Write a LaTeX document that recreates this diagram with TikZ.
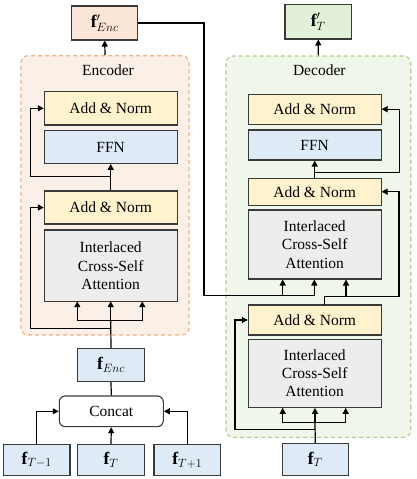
\documentclass[tikz,border=0pt]{standalone}
\usepackage{fontspec}
\setmainfont{Liberation Serif}
\usetikzlibrary{arrows.meta}
\definecolor{encfill}{HTML}{FBF0E8}
\definecolor{encline}{HTML}{F4B183}
\definecolor{decfill}{HTML}{EFF6EA}
\definecolor{decline}{HTML}{A9D18E}
\definecolor{normfill}{HTML}{FFF2CC}
\definecolor{ffnfill}{HTML}{DEEBF7}
\definecolor{attfill}{HTML}{EDEDED}
\definecolor{encout}{HTML}{FBE5D6}
\definecolor{decout}{HTML}{E2F0D9}
\definecolor{boxline}{HTML}{3A3A3A}
\begin{document}
\begin{tikzpicture}[x=1pt,y=-1pt,
  font=\fontsize{15.5}{18.3}\selectfont,
  blk/.style={draw=boxline,line width=1.1pt,inner sep=0pt,align=center},
  norm/.style={blk,fill=normfill,minimum width=132.7pt},
  ffn/.style={blk,fill=ffnfill,minimum width=132.7pt},
  att/.style={blk,fill=attfill,minimum width=132.7pt},
  feat/.style={blk,fill=ffnfill,minimum width=66.5pt,font=\fontsize{17.5}{20}\selectfont},
  cont/.style={dashed,dash pattern=on 4pt off 3pt,line width=1.1pt,rounded corners=7pt},
  con/.style={line width=1.2pt,draw=black},
  arr/.style={con,-{Triangle[length=6pt,width=6pt]}}
]
\useasboundingbox (0,0) rectangle (416,479);
% containers
\node[cont,draw=encline,fill=encfill,minimum width=168pt,minimum height=279.3pt,inner sep=0pt] (enc) at (105,195.35) {};
\node[cont,draw=decline,fill=decfill,minimum width=184.7pt,minimum height=381.3pt,inner sep=0pt] (dec) at (318.35,246.65) {};
\node (enclab) at (108,70) {Encoder};
\node (declab) at (319.3,70) {Decoder};
% encoder blocks
\node[feat,fill=encout,minimum width=66pt,minimum height=34pt] (fencp) at (104.7,23) {$\mathbf{f}'_{Enc}$};
\node[norm,minimum height=33.3pt] (ean2) at (110.7,108.3) {Add \& Norm};
\node[ffn,minimum height=32.7pt] (effn) at (110.7,147) {FFN};
\node[norm,minimum height=33pt] (ean1) at (110.7,207.5) {Add \& Norm};
\node[att,minimum height=71.7pt] (eia) at (110.7,265.8) {Interlaced\\Cross-Self\\Attention};
\node[feat,minimum height=33.3pt] (fenc) at (111,365) {$\mathbf{f}_{Enc}$};
\node[blk,fill=white,rounded corners=6pt,minimum width=104pt,minimum height=30.7pt] (concat) at (111.3,411.3) {Concat};
\node[feat,minimum height=31.4pt] (ftm) at (36.7,460) {$\mathbf{f}_{T-1}$};
\node[feat,minimum height=31.4pt] (ft0) at (111,460) {$\mathbf{f}_{T}$};
\node[feat,minimum height=31.4pt] (ftp) at (187.2,460) {$\mathbf{f}_{T+1}$};
% decoder blocks
\node[feat,fill=decout,minimum width=66.7pt,minimum height=34.3pt] (ftpr) at (318.3,21.8) {$\mathbf{f}'_{T}$};
\node[norm,minimum height=29.7pt] (dan3) at (314.7,109.2) {Add \& Norm};
\node[ffn,minimum height=30pt] (dffn) at (314.7,145) {FFN};
\node[norm,minimum height=26.7pt] (dan2) at (314.7,191.7) {Add \& Norm};
\node[att,minimum height=69pt] (dia1) at (314.7,244.5) {Interlaced\\Cross-Self\\Attention};
\node[norm,minimum height=30pt] (dan1) at (314.7,320) {Add \& Norm};
\node[att,minimum height=68pt] (dia2) at (314.7,373.3) {Interlaced\\Cross-Self\\Attention};
\node[feat,minimum height=31.7pt] (ftd) at (315.3,459.2) {$\mathbf{f}_{T}$};
% helper coordinates
\coordinate (eb) at (110.7,320.7);
\coordinate (er1) at (110.7,328.3);
\coordinate (er2) at (110.7,176.7);
\coordinate (db) at (315,422.7);
\coordinate (dr1) at (315,429.3);
\coordinate (dr2) at (324.3,296.7);
\coordinate (dr3) at (315,172.3);
\coordinate (cross) at (204,295.7);
% encoder connectors
\draw[con] (fenc.north) -- (eb);
\draw[con] (77.3,320.7) -- (142.3,320.7);
\draw[arr] (77.3,320.7) -- (77.3,301.7-0.5);
\draw[arr] (eb) -- (110.7,301.7-0.5);
\draw[arr] (142.3,320.7) -- (142.3,301.7-0.5);
\draw[arr] (er1) -| (30.3,207.5) -- (ean1.west);
\draw[arr] (ean1.north) -- (effn.south);
\draw[arr] (er2) -| (30.3,108.3) -- (ean2.west);
\draw[arr] (enc.north) -- (fencp.south);
% concat connectors
\draw[con] (concat.north) -- (fenc.south);
\draw[arr] (ftm.north) |- (concat.west);
\draw[arr] (ft0.north) -- (concat.south);
\draw[arr] (ftp.north) |- (concat.east);
% cross connection
\draw[con] (fencp.east) -| (cross) -- (314.3,295.7);
\draw[arr] (282.7,295.7) -- (282.7,279.5);
\draw[arr] (314.3,295.7) -- (314.3,279.5);
% decoder connectors
\draw[con] (ftd.north) -- (db);
\draw[con] (282.7,422.7) -- (345.7,422.7);
\draw[arr] (282.7,422.7) -- (282.7,407.8);
\draw[arr] (db) -- (315,407.8);
\draw[arr] (345.7,422.7) -- (345.7,407.8);
\draw[arr] (dr1) -| (235,320) -- (dan1.west);
\draw[con] (324.3,305) -- (dr2) -- (399,296.7);
\draw[arr] (346,296.7) -- (346,279.5);
\draw[arr] (399,296.7) -- (399,191.7) -- (dan2.east);
\draw[arr] (dan2.north) -- (dffn.south);
\draw[arr] (dr3) -| (399.3,109.2) -- (dan3.east);
\draw[arr] (dec.north) -- (ftpr.south);
\end{tikzpicture}
\end{document}
